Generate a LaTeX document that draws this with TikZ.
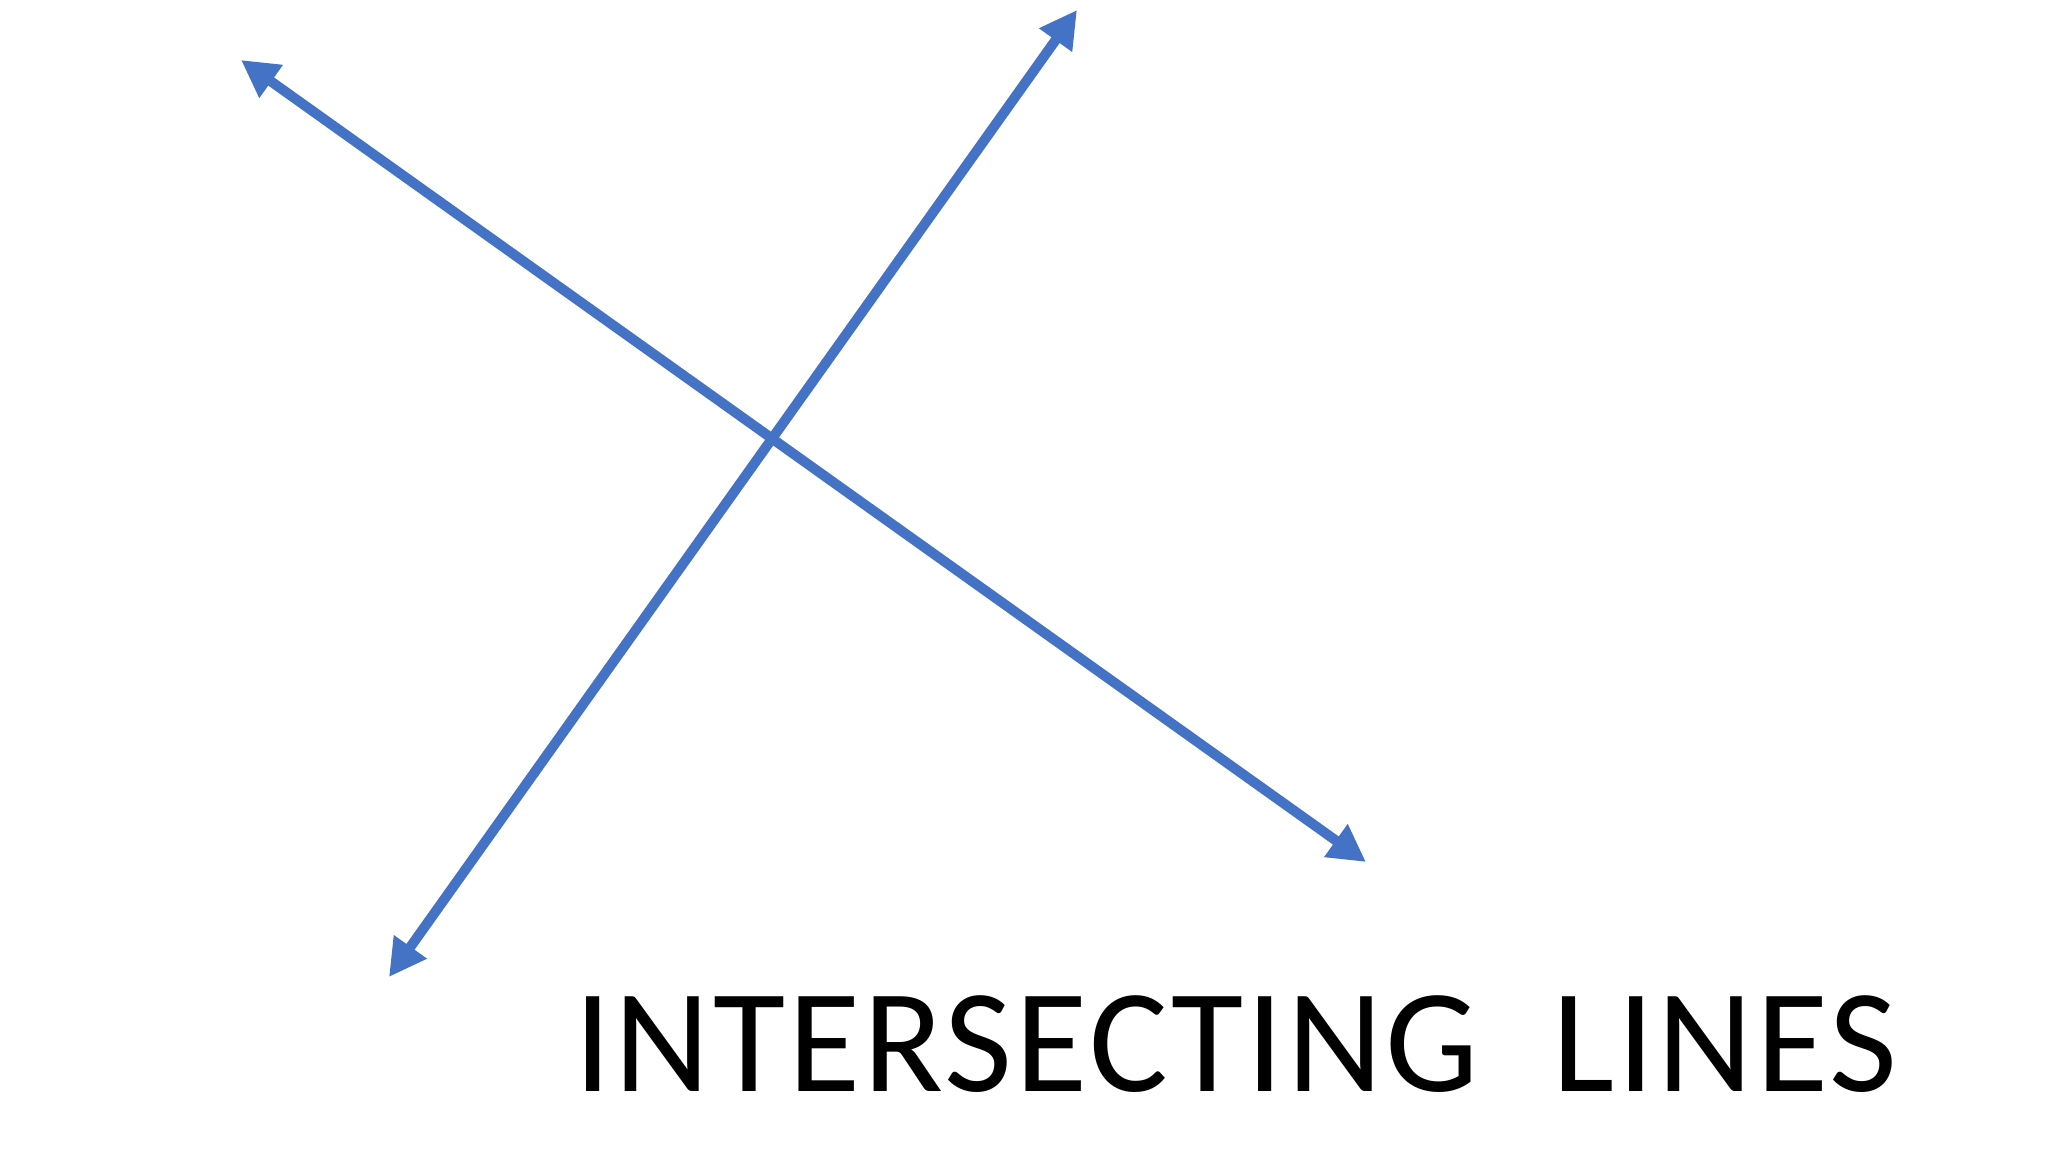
\documentclass[tikz,border=0pt]{standalone}
\usepackage{fontspec}
\setmainfont{Carlito}
\newfontfamily\capfont[LetterSpace=2.1]{Carlito}
\usetikzlibrary{arrows.meta}
\definecolor{lineblue}{HTML}{4472C4}

\begin{document}
\begin{tikzpicture}[x=0.01cm, y=-0.01cm,
    dline/.style={draw=lineblue, line width=0.1cm,
      {Triangle[length=0.37cm, width=0.38cm]}-{Triangle[length=0.37cm, width=0.38cm]}}]

  \useasboundingbox (0,0) rectangle (2048,1152);

  % End points of the two lines
  \coordinate (a1) at (241,60);
  \coordinate (a2) at (1366,862);
  \coordinate (b1) at (389,977);
  \coordinate (b2) at (1077,10);

  % The intersecting lines
  \draw[dline] (a1) -- (a2);
  \draw[dline] (b1) -- (b2);

  % Caption
  \node[anchor=base west, inner sep=0pt, font=\capfont\fontsize{42}{50}\selectfont] (title)
    at (574,1091) {INTERSECTING\ \ LINES};

\end{tikzpicture}
\end{document}
